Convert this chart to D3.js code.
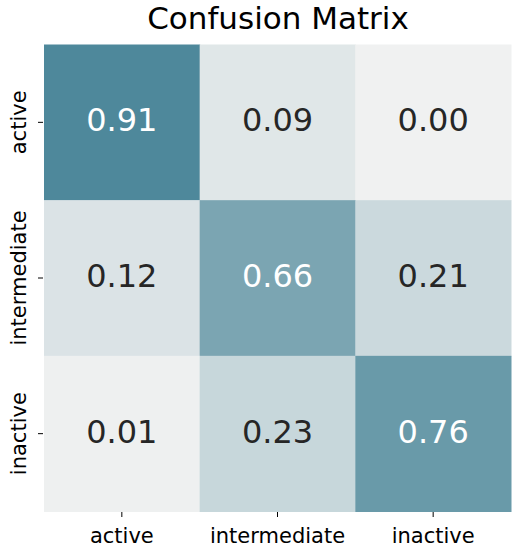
<!DOCTYPE html>
<html>
<head>
<meta charset="utf-8">
<script src="https://cdn.jsdelivr.net/npm/d3@7"></script>
<style>
  body { margin: 0; background: #fff; }
  text { font-family: "DejaVu Sans", sans-serif; }
</style>
</head>
<body>
<svg id="chart"></svg>
<script>
let width = 522;
let height = 550;

let labels = ['active', 'intermediate', 'inactive'];
let matrix = [
  [0.91, 0.09, 0.00],
  [0.12, 0.66, 0.21],
  [0.01, 0.23, 0.76]
];

let cells = [];
matrix.forEach((row, i) => row.forEach((v, j) => {
  cells.push({ actual: labels[i], predicted: labels[j], value: v });
}));

let xScale = d3.scaleBand()
               .domain(labels)
               .range([44, 511]);

let yScale = d3.scaleBand()
               .domain(labels)
               .range([44.5, 511.5]);

let colorScale = d3.scaleLinear()
                   .domain([0, 1])
                   .range(['#f0f1f1', '#3e7e92']);

let svg = d3.select('#chart')
    .attr('width', width)
    .attr('height', height);

svg.append('text')
    .attr('x', 278)
    .attr('y', 29)
    .attr('text-anchor', 'middle')
    .attr('font-size', 31)
    .attr('fill', '#000')
    .text('Confusion Matrix');

svg.selectAll('rect.cell')
  .data(cells)
  .enter()
  .append('rect')
    .attr('class', 'cell')
    .attr('x', d => xScale(d.predicted))
    .attr('y', d => yScale(d.actual))
    .attr('width', xScale.bandwidth() + 0.5)
    .attr('height', yScale.bandwidth() + 0.5)
    .attr('fill', d => colorScale(d.value));

svg.selectAll('text.val')
  .data(cells)
  .enter()
  .append('text')
    .attr('class', 'val')
    .attr('x', d => xScale(d.predicted) + xScale.bandwidth() / 2)
    .attr('y', d => yScale(d.actual) + yScale.bandwidth() / 2 + 9)
    .attr('text-anchor', 'middle')
    .attr('font-size', 32)
    .attr('fill', d => d.value > 0.5 ? '#ffffff' : '#262626')
    .text(d => d.value.toFixed(2));

// x axis
let xAxis = d3.axisBottom(xScale).tickSize(5).tickPadding(10);
let gx = svg.append('g')
    .attr('transform', 'translate(0,512)')
    .call(xAxis);
gx.select('.domain').remove();
gx.selectAll('line').attr('stroke', '#000').attr('stroke-width', 1);
gx.selectAll('text')
    .attr('font-size', 21)
    .attr('font-family', '"DejaVu Sans", sans-serif')
    .attr('fill', '#000')
    .attr('dy', null)
    .attr('y', 31);

// y axis
let yAxis = d3.axisLeft(yScale).tickSize(5);
let gy = svg.append('g')
    .attr('transform', 'translate(43,0)')
    .call(yAxis);
gy.select('.domain').remove();
gy.selectAll('line').attr('stroke', '#000').attr('stroke-width', 1);
gy.selectAll('text')
    .attr('font-size', 21)
    .attr('font-family', '"DejaVu Sans", sans-serif')
    .attr('fill', '#000')
    .attr('text-anchor', 'middle')
    .attr('x', null)
    .attr('dy', null)
    .attr('transform', 'translate(-17,0) rotate(-90)');
</script>
</body>
</html>
